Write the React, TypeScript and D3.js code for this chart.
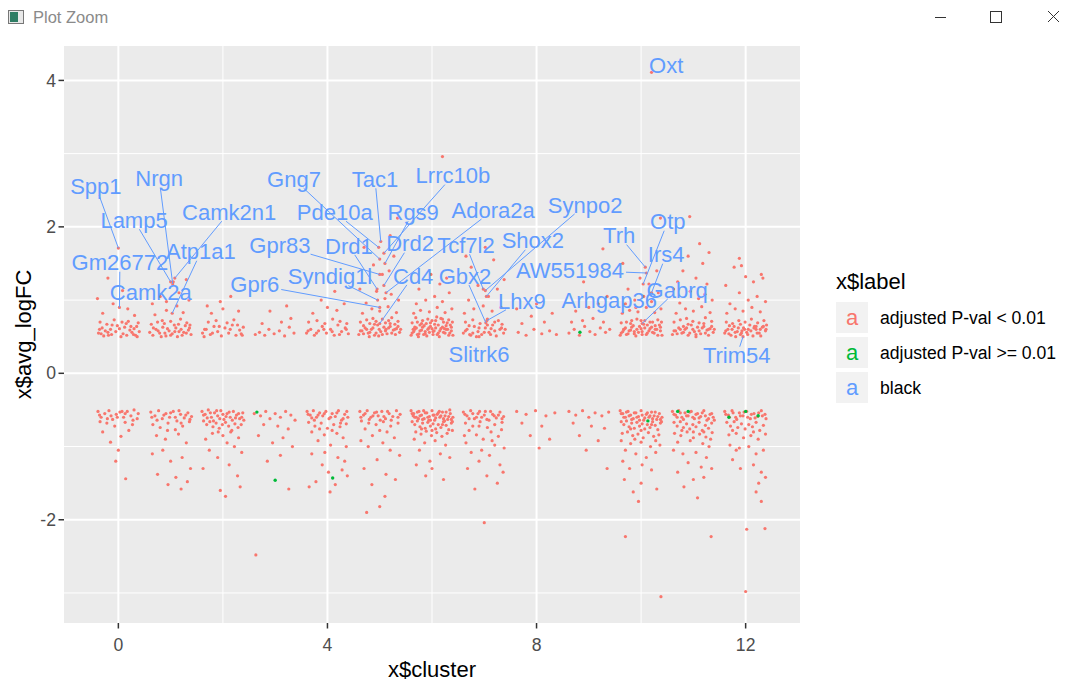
import React, { useEffect, useRef } from "react";
import * as d3 from "d3";

const width = 1083;
const height = 689;

const xTicks = [0, 4, 8, 12];
const xMinor = [2, 6, 10];
const yTicks = [-2, 0, 2, 4];
const yMinor = [-3, -1, 1, 3];

const legendLabels = ["adjusted P-val < 0.01", "adjusted P-val >= 0.01", "black"];
const legendColors = ["#F8766D", "#00BA38", "#619CFF"];

// points per cluster, flat pairs: [jitter, avg_logFC, jitter, avg_logFC, ...]
const cl0 = [
  -.38,.55, -.31,.62, -.25,.58, -.19,.52, -.12,.66, -.05,.57, .02,.61, .09,.54, .15,.68, .22,.59, .29,.53, .35,.64,
  .4,.57, -.35,.7, -.28,.51, -.15,.6, -.08,.73, .05,.5, .12,.63, .19,.71, .26,.56, .33,.52, -.22,.67, .38,.69,
  -.36,.6, -.2,.56, -.02,.65, .16,.52, .3,.61, -.13,.53, .07,.7, .24,.64, -.33,.54, .36,.5,
  -.3,.82, -.1,.95, .18,.88, .31,.79, -.4,1.02, .08,1.13, -.2,1.3,
  -.39,-.52, -.33,-.6, -.26,-.55, -.18,-.51, -.11,-.63, -.04,-.56, .03,-.53, .1,-.6, .17,-.52, .24,-.58, .3,-.5,
  .36,-.62, -.22,-.68, -.07,-.72, .13,-.67, .27,-.7, -.3,-.8, .05,-.86, -.15,-.94, .2,-.78, .0,-1.05, -.05,-1.2,
  .14,-1.44, -.35,-.66, -.36,-.57, -.21,-.62, -.02,-.6, .13,-.55, .28,-.64, -.14,-.58, .07,-.52, .38,-.55,
];
const cl1 = [
  -.4,.56, -.34,.52, -.28,.6, -.21,.55, -.15,.63, -.09,.51, -.03,.58, .03,.54, .1,.62, .16,.57, .22,.52, .28,.65,
  .34,.59, .39,.53, -.37,.67, -.25,.7, -.12,.68, .0,.71, .07,.66, .19,.74, .31,.69, -.18,.5, .13,.5, .25,.56,
  -.06,.61, .36,.62, -.33,.62, -.24,.58, -.11,.55, .0,.52, .08,.57, .2,.6, .3,.55, .37,.66, -.16,.72, .15,.67,
  -.3,.8, -.08,.86, .12,.92, .24,.83, .35,1.0, -.2,1.05, .05,1.25, .3,1.28, -.35,.95, .16,1.1,
  -.38,-.53, -.3,-.58, -.23,-.51, -.16,-.62, -.09,-.55, -.02,-.6, .05,-.52, .12,-.65, .19,-.56, .26,-.61, .33,-.54,
  .4,-.59, -.34,-.7, -.2,-.74, -.05,-.68, .09,-.77, .23,-.72, .36,-.66, -.27,-.85, -.1,-.9, .15,-.83, .3,-.95,
  -.36,-.6, -.26,-.64, -.13,-.57, .0,-.54, .09,-.6, .16,-.51, .29,-.57, .37,-.63, -.06,-.78, .2,-.68,
  -.35,-1.1, -.15,-1.05, .0,-1.2, .22,-1.15, .38,-1.3, -.25,-1.38, .1,-1.42, -.05,-1.52, .32,-1.48, .2,-1.58,
];
const cl2 = [
  -.39,.55, -.32,.6, -.24,.53, -.17,.64, -.1,.57, -.03,.51, .04,.62, .11,.55, .18,.66, .25,.52, .32,.59, .39,.63,
  -.28,.7, -.13,.72, .08,.69, .21,.73, .35,.54, -.36,.5, -.35,.6, -.2,.55, -.07,.64, .14,.6, .28,.66, .37,.52,
  -.22,.82, .0,.88, .3,.85, -.05,.98, .15,1.05, -.3,.92,
  -.4,-.52, -.34,-.56, -.28,-.5, -.22,-.6, -.16,-.54, -.1,-.58, -.04,-.51, .02,-.63, .08,-.55, .14,-.6, .2,-.52,
  .26,-.57, .32,-.62, .38,-.54, -.37,-.65, -.31,-.7, -.25,-.66, -.19,-.73, -.13,-.68, -.07,-.75, -.01,-.7, .05,-.67,
  .11,-.72, .17,-.78, .23,-.69, .29,-.74, .35,-.7, .4,-.64, -.2,-.82, .0,-.85, .15,-.8, .3,-.88, -.33,-.9, .08,-.95,
  -.37,-.57, -.3,-.61, -.24,-.54, -.18,-.65, -.12,-.51, -.06,-.62, .0,-.56, .06,-.59, .12,-.53, .18,-.64, .24,-.61,
  .3,-.55, .36,-.6, -.09,-.8,
  -.26,-1.05, .22,-1.0, .36,-1.08, -.1,-1.15, .12,-1.25, .28,-1.4, -.05,-1.6, .05,-1.68, .33,-1.55, -.38,-1.3,
];
const cl3 = [
  -.38,.53, -.3,.56, -.2,.52, -.12,.6, -.02,.54, .08,.58, .18,.51, .27,.63, .36,.55, -.25,.68, .12,.7, .3,.75,
  -.1,.85, .22,.92,
  -.4,-.55, -.28,-.58, -.18,-.52, -.1,-.62, .0,-.55, .1,-.6, .2,-.52, .3,-.57, .38,-.64, -.22,-.7, .05,-.72,
  .25,-.76, -.32,-.85, .15,-.88, -.05,-.95, .33,-1.0, .1,-1.12, -.15,-1.2, .26,-1.58, -.37,-2.48,
];
const cl4 = [
  -.4,.55, -.32,.6, -.25,.52, -.17,.58, -.1,.64, -.02,.55, .06,.6, .13,.52, .2,.66, .27,.57, .34,.62, .4,.54,
  -.36,.7, -.2,.72, -.05,.68, .1,.74, .24,.71, .37,.68, -.37,.58, -.21,.55, -.07,.6, .09,.57, .23,.53, .36,.6,
  -.28,.82, .0,.9, .18,.86, .32,.95, -.12,1.0, .14,1.12,
  -.39,-.52, -.33,-.57, -.27,-.51, -.21,-.6, -.15,-.54, -.09,-.58, -.03,-.52, .03,-.62, .09,-.55, .15,-.59,
  .21,-.51, .27,-.64, .33,-.56, .39,-.6, -.36,-.67, -.24,-.72, -.12,-.68, .0,-.75, .12,-.7, .24,-.73, .36,-.69,
  -.37,-.56, -.3,-.61, -.18,-.57, -.06,-.55, .06,-.6, .18,-.54, .3,-.62, .37,-.52, -.15,-.76, .09,-.78, -.25,-.64,
  .25,-.68,
  -.3,-.8, -.06,-.84, .18,-.82, .3,-.88, -.18,-.92, .06,-.98, .36,-1.0, -.3,-1.1, .2,-1.15, -.1,-1.25, .02,-1.35,
  .28,-1.32, -.22,-1.48, .15,-1.52, .05,-1.62, -.35,-1.55, .38,-1.4, .33,-1.2, -.05,-1.08,
];
const cl5 = [
  -.4,.53, -.34,.58, -.28,.62, -.22,.55, -.16,.6, -.1,.52, -.04,.66, .02,.57, .08,.63, .14,.54, .2,.68, .26,.59,
  .32,.61, .38,.56, -.37,.7, -.31,.65, -.25,.73, -.19,.68, -.13,.75, -.07,.71, .05,.74, .11,.69, .17,.72, .23,.76,
  .29,.67, .35,.71, -.02,.51, .12,.6, -.2,.5, .3,.53, -.37,.58, -.31,.54, -.25,.6, -.19,.56, -.13,.62, -.07,.55,
  -.01,.6, .05,.53, .11,.58, .17,.62, .23,.55, .29,.6, .35,.64, .4,.6, -.1,.67, .2,.64,
  -.33,.82, -.15,.88, .0,.85, .16,.91, .32,.83, -.26,.96,
  .1,1.02, -.06,1.12, .22,1.08, .36,1.0, -.38,1.15, .05,1.35, -.12,1.48, .18,1.4, .27,1.6, -.3,1.72, .2,1.88, .34,2.12,
  -.38,-.52, -.31,-.57, -.24,-.51, -.17,-.6, -.1,-.54, -.03,-.58, .04,-.52, .11,-.62, .18,-.55, .25,-.59, .32,-.51,
  .39,-.56, -.35,-.65, -.21,-.68, -.07,-.7, .07,-.66, .21,-.72, .35,-.68, -.28,-.76, .0,-.78, .14,-.8, -.14,-.85,
  -.36,-.6, -.28,-.55, -.2,-.63, -.13,-.58, -.06,-.53, .01,-.64, .08,-.59, .15,-.52, .22,-.64, .35,-.6,
  .28,-.88, -.36,-.92, .06,-.95, -.22,-1.0, .2,-1.05, .38,-1.12, -.05,-1.18, -.3,-1.3, .12,-1.38, .3,-1.45,
  -.15,-1.52, .1,-1.68, -.25,-1.9, .0,-1.82,
];
const cl6 = [
  -.4,.52, -.35,.57, -.3,.62, -.25,.54, -.2,.59, -.15,.65, -.1,.51, -.05,.56, .0,.61, .05,.67, .1,.53, .15,.58,
  .2,.63, .25,.55, .3,.6, .35,.66, .4,.52, -.38,.69, -.33,.63, -.28,.7, -.23,.66, -.18,.72, -.13,.57, -.08,.74,
  -.03,.69, .02,.53, .07,.72, .12,.66, .17,.75, .22,.7, .27,.65, .32,.73, .37,.58, -.36,.6, -.26,.5, -.16,.53,
  -.06,.62, .04,.58, .14,.5, .24,.61, .34,.55, -.31,.76, -.11,.68, .09,.77, .29,.69,
  -.38,.55, -.33,.6, -.28,.53, -.23,.58, -.18,.63, -.13,.54, -.08,.6, -.03,.64, .02,.57, .07,.62, .12,.55, .17,.61,
  .22,.56, .27,.6, .32,.52, .37,.63, -.2,.68, .0,.72, .2,.74, .39,.7,
  -.35,.82, -.22,.86, -.05,.84,
  .1,.9, .25,.83, .38,.88, -.3,.95, -.12,1.0, .05,1.05, .2,.98, .33,1.1, -.25,1.15, .15,1.22, -.02,1.35, .28,1.3,
  .2,2.96,
  -.4,-.51, -.35,-.55, -.3,-.6, -.25,-.52, -.2,-.57, -.15,-.62, -.1,-.54, -.05,-.59, .0,-.51, .05,-.64, .1,-.56,
  .15,-.6, .2,-.53, .25,-.58, .3,-.63, .35,-.55, .4,-.6, -.38,-.66, -.33,-.7, -.28,-.65, -.23,-.73, -.18,-.68,
  -.13,-.75, -.08,-.67, -.03,-.72, .02,-.69, .07,-.76, .12,-.7, .17,-.74, .22,-.66, .27,-.71, .32,-.77, .37,-.68,
  -.36,-.58, -.26,-.62, -.16,-.51, -.06,-.64, .04,-.57, .14,-.52, .24,-.65, .34,-.5, -.31,-.8, -.21,-.83, -.11,-.79,
  -.38,-.55, -.33,-.6, -.28,-.53, -.23,-.58, -.18,-.63, -.13,-.54, -.08,-.6, -.03,-.64, .02,-.57, .07,-.61,
  .12,-.54, .17,-.58, .22,-.62, .27,-.53, .32,-.59, .37,-.63, -.2,-.76, .0,-.78, .2,-.7, .39,-.66,
  -.01,-.85, .09,-.81, .19,-.86, .29,-.82, .39,-.78, -.34,-.9, -.14,-.95, .06,-.92, .26,-.98, -.24,-1.05, .16,-1.1,
  -.04,-1.2, .34,-1.15, .0,-1.3, -.3,-1.25, .22,-1.45, -.12,-1.4,
];
const cl7 = [
  -.4,.55, -.33,.6, -.26,.52, -.19,.64, -.12,.57, -.05,.53, .02,.62, .09,.56, .16,.66, .23,.51, .3,.6, .37,.55,
  -.36,.7, -.22,.73, -.08,.68, .06,.74, .2,.7, .34,.67, -.29,.65, .13,.61, -.15,.5, .27,.72,
  -.36,.58, -.22,.55, -.1,.62, .0,.56, .12,.53, .2,.58, .33,.62, .4,.6, -.28,.53, .06,.66,
  -.38,.82, -.2,.88,
  -.02,.92, .15,.85, .32,.9, -.3,1.0, .08,1.05, .25,1.15, -.12,1.2, .38,1.28, -.25,1.45, .18,1.55, .02,1.72, -.35,1.6,
  -.4,-.53, -.33,-.58, -.26,-.51, -.19,-.62, -.12,-.55, -.05,-.6, .02,-.52, .09,-.64, .16,-.56, .23,-.61, .3,-.53,
  .37,-.59, -.36,-.68, -.22,-.72, -.08,-.66, .06,-.74, .2,-.7, .34,-.67, -.29,-.78, .13,-.8, -.15,-.84, .27,-.86,
  -.37,-.56, -.29,-.62, -.22,-.55, -.15,-.6, -.09,-.52, .0,-.57, .05,-.63, .12,-.52, .19,-.58, .27,-.57, .34,-.62,
  -.1,-.72,
  -.02,-.9, -.35,-.95, .2,-.98, .38,-1.02, -.25,-1.08, .1,-1.12, -.1,-1.2, .3,-1.25, -.32,-1.3, .05,-1.4, .25,-1.5,
  -.18,-1.58, .0,-2.04, .36,-1.35, -.05,-1.05, .15,-.92, -.38,-.85, .33,-.77,
];
const cl8 = [
  -.35,.56, -.2,.52, -.05,.6, .1,.54, .25,.58, .38,.53, -.28,.68, .15,.7, -.1,.78, .3,.82, .0,.95, -.38,.88,
  -.38,-.52, -.2,-.56, -.02,-.51, .18,-.58, .35,-.54, -.28,-.68, .1,-.72, -.12,-.85, .25,-.9, .05,-1.02,
];
const cl9 = [
  -.38,.55, -.28,.6, -.18,.52, -.08,.64, .02,.57, .12,.53, .22,.62, .32,.56, .4,.6, -.33,.7, -.12,.72, .08,.75,
  .28,.7, -.25,.85, .0,.9, .18,.95, .35,1.05, -.1,1.25, .27,1.7,
  -.38,-.52, -.25,-.57, -.12,-.51, .0,-.6, .12,-.54, .25,-.58, .38,-.53, -.3,-.68, .05,-.72, .3,-.75, -.18,-.85,
  .18,-.92, -.05,-1.05, .35,-1.3,
];
const cl10 = [
  -.4,.52, -.35,.57, -.3,.62, -.25,.54, -.2,.59, -.15,.65, -.1,.51, -.05,.56, .0,.61, .05,.67, .1,.53, .15,.58,
  .2,.63, .25,.55, .3,.6, .35,.66, .4,.52, -.38,.69, -.28,.7, -.18,.72, -.08,.74, .02,.53, .12,.66, .22,.7,
  .32,.73, -.33,.6, -.13,.57, .07,.72, .27,.65, .37,.58,
  -.38,.55, -.33,.6, -.28,.53, -.23,.58, -.18,.63, -.13,.54, -.08,.6, -.03,.64, .02,.57, .07,.62, .12,.55, .17,.61,
  .22,.56, .27,.6, .32,.52, .37,.63, -.2,.68, .0,.72, .17,.7, .39,.7,
  -.36,.82, -.22,.86, -.06,.84, .1,.9, .26,.83, .38,.88,
  -.3,.95, -.12,1.0, .05,1.05, .2,.98, .33,1.1, -.25,1.15, .15,1.22, -.02,1.3, .3,1.4, -.35,1.5, .37,2.12,
  -.4,-.51, -.35,-.55, -.3,-.6, -.25,-.52, -.2,-.57, -.15,-.62, -.1,-.54, -.05,-.59, .0,-.51, .05,-.64, .1,-.56,
  .15,-.6, .2,-.53, .25,-.58, .3,-.63, .35,-.55, .4,-.6, -.38,-.66, -.33,-.7, -.28,-.65, -.23,-.73, -.18,-.68,
  -.13,-.75, -.08,-.67, -.03,-.72, .02,-.69, .07,-.76, .12,-.7, .17,-.74, .22,-.66, .27,-.71, .32,-.77, .37,-.68,
  -.38,-.55, -.33,-.6, -.28,-.53, -.23,-.58, -.18,-.63, -.13,-.54, -.08,-.6, -.03,-.64, .02,-.57, .07,-.61,
  .12,-.54, .17,-.58, .22,-.62, .27,-.53, .32,-.59, .37,-.63, -.2,-.76, .0,-.78, .2,-.7, .39,-.66, -.12,-.9, .28,-.92,
  -.36,-.82, -.26,-.8, -.16,-.85, -.06,-.83, .04,-.88, .14,-.81, .24,-.86, .34,-.84, -.38,-.92, -.2,-.96, .0,-.94,
  .18,-1.0, .36,-.98, -.3,-1.05, -.1,-1.1, .1,-1.15, .28,-1.08, -.35,-1.2, .02,-1.25, -.22,-1.3, .2,-1.32,
  -.32,-1.45, .0,-1.5, -.15,-1.62, .3,-1.58, -.3,-2.23, .38,-3.05, -.05,-1.75,
];
const cl11 = [
  -.4,.53, -.34,.58, -.28,.62, -.22,.55, -.16,.6, -.1,.52, -.04,.66, .02,.57, .08,.63, .14,.54, .2,.68, .26,.59,
  .32,.61, .38,.56, -.37,.7, -.25,.73, -.13,.75, -.01,.71, .11,.69, .23,.76, .35,.71, -.19,.64, .05,.5, .29,.52,
  -.37,.58, -.31,.54, -.25,.6, -.19,.56, -.13,.62, -.07,.55, -.01,.6, .05,.53, .11,.58, .17,.62, .23,.55, .29,.6,
  .35,.64, .4,.6, -.1,.67, .2,.64,
  -.33,.82, -.15,.88, .0,.85, .16,.91, .32,.83, -.26,.96, .1,1.02, -.06,1.12, .22,1.08, .36,1.0, -.38,1.15,
  .05,1.3, -.2,1.4, .18,1.5, -.07,2.14, .12,1.77, .3,1.65, -.3,1.25, .26,1.22, -.1,1.6,
  -.4,-.52, -.34,-.57, -.28,-.51, -.22,-.6, -.16,-.54, -.1,-.58, -.04,-.52, .02,-.62, .08,-.55, .14,-.59, .2,-.51,
  .26,-.64, .32,-.56, .38,-.6, -.37,-.67, -.31,-.72, -.25,-.66, -.19,-.74, -.13,-.69, -.07,-.76, -.01,-.7, .05,-.73,
  .11,-.67, .17,-.78, .23,-.71, .29,-.75, .35,-.68, -.36,-.82, -.24,-.85, -.12,-.8, .0,-.88, .12,-.83, .24,-.87,
  -.37,-.56, -.31,-.6, -.25,-.54, -.19,-.63, -.13,-.58, -.07,-.53, -.01,-.6, .05,-.56, .11,-.61, .17,-.54,
  .23,-.58, .29,-.62, .35,-.55, .4,-.64, -.22,-.78, .0,-.8, .2,-.8, .33,-.9,
  .36,-.81, -.3,-.94, -.06,-.92, .18,-.96, .3,-1.0, -.38,-1.05, -.2,-1.1, .05,-1.08, .25,-1.15, -.1,-1.22,
  .15,-1.28, -.3,-1.35, .35,-1.3, .0,-1.45, -.18,-1.55, .2,-1.42, .08,-1.7, .34,-2.23,
];
const cl12 = [
  -.4,.55, -.34,.6, -.28,.52, -.22,.64, -.16,.57, -.1,.53, -.04,.62, .02,.56, .08,.66, .14,.51, .2,.6, .26,.55,
  .32,.63, .38,.58, -.37,.7, -.25,.68, -.13,.72, -.01,.7, .11,.74, .23,.69, .35,.72, -.31,.65, -.19,.5, .05,.6,
  .17,.64, .29,.51, -.07,.58, .4,.66,
  -.38,.58, -.32,.54, -.26,.6, -.2,.56, -.14,.62, -.08,.55, -.02,.6, .04,.53, .1,.58, .16,.62, .22,.55, .28,.6,
  .34,.64, .39,.6, -.1,.67, .2,.64,
  -.36,.82, -.2,.88, -.05,.85, .12,.9, .28,.84, -.3,.95, .05,1.0, .22,1.05,
  .38,.98, -.12,1.1, -.38,1.2, .15,1.25, .33,1.3, -.22,1.45, -.12,1.57, -.08,1.47, .3,1.35, .0,1.32,
  -.4,-.52, -.33,-.57, -.26,-.51, -.19,-.6, -.12,-.54, -.05,-.58, .02,-.52, .09,-.62, .16,-.55, .23,-.59, .3,-.51,
  .37,-.56, -.36,-.67, -.29,-.72, -.22,-.66, -.15,-.74, -.08,-.69, -.01,-.76, .06,-.7, .13,-.73, .2,-.67, .27,-.78,
  -.38,-.56, -.31,-.6, -.24,-.54, -.17,-.63, -.1,-.58, -.03,-.53, .04,-.6, .11,-.56, .18,-.61, .25,-.54, .32,-.58,
  .39,-.62, -.25,-.78, .15,-.8,
  .34,-.71, -.32,-.84, -.18,-.82, -.04,-.88, .1,-.85, .24,-.9, .38,-.83, -.3,-.98, -.12,-1.02, .06,-1.0, .2,-1.1,
  .34,-1.05, -.25,-1.18, .15,-1.25, .3,-1.35, -.1,-1.3, .25,-1.5, .38,-1.42, .2,-1.62, .3,-1.75, .02,-2.13,
  .37,-2.12, .0,-2.98, -.18,-1.05,
];
const clusterPoints = [cl0, cl1, cl2, cl3, cl4, cl5, cl6, cl7, cl8, cl9, cl10, cl11, cl12];

// genes with adjusted P-val >= 0.01
const greenCluster = [3, 3, 4, 9, 10, 11, 11, 12, 12, 12];
const greenJitter = [-.35, 0, .1, -.17, .13, -.3, -.1, -.32, 0, .24];
const greenFC = [-.53, -1.46, -1.43, .56, -.65, -.52, -.52, -.6, -.52, -.58];

// labelled genes: point and repelled text position (data units)
const genes = ["Spp1", "Nrgn", "Lamp5", "Camk2n1", "Atp1a1", "Gm26772", "Camk2a", "Gpr6", "Gng7", "Tac1",
  "Lrrc10b", "Pde10a", "Rgs9", "Adora2a", "Synpo2", "Gpr83", "Drd1", "Drd2", "Tcf7l2", "Shox2", "Syndig1l",
  "Cd4", "Gbx2", "Trh", "Otp", "Irs4", "AW551984", "Gabrq", "Arhgap36", "Lhx9", "Slitrk6", "Trim54", "Oxt"];
const geneCluster = [0, 1, 1, 1, 1, 0, 1, 5, 5, 5, 5, 5, 5, 5, 7, 5, 5, 5, 7, 7, 5, 5, 7, 10, 10, 10, 10, 10, 10, 7, 7, 12, 10];
const geneJitter = [0, .04, 0, .08, .03, .02, -.08, 0, 0, .02, .08, -.02, .1, .12, .02, 0, -.05, .08, -.02, .04, -.04,
  0, .03, .08, .04, .2, .1, .02, -.1, .05, -.1, -.05, .2];
const geneFC = [1.71, 1.22, 1.25, 1.3, .82, .9, .98, .9, 1.56, 1.8, 1.64, 1.72, 1.5, 1.1, 1.13, 1.35, 1.15, 1.2,
  1.15, 1.05, 1.0, .68, .69, 1.45, 1.22, 1.1, 1.37, .68, .9, .72, .5, .5, 4.11];
const labelX = [-.43, .78, .3, 2.12, 1.58, .03, .62, 2.61, 3.36, 4.91, 6.4, 4.14, 5.64, 7.17, 8.93, 3.09, 4.41, 5.58,
  6.65, 7.93, 4.05, 5.64, 6.63, 9.58, 10.51, 10.48, 8.64, 10.69, 9.39, 7.72, 6.9, 11.83, 10.48];
const labelY = [2.55, 2.66, 2.09, 2.2, 1.66, 1.51, 1.1, 1.21, 2.65, 2.65, 2.7, 2.2, 2.2, 2.23, 2.3, 1.75, 1.74, 1.77,
  1.75, 1.81, 1.32, 1.33, 1.33, 1.88, 2.07, 1.62, 1.41, 1.14, 1.0, .99, .26, .24, 4.2];

const font = "'Liberation Sans', Arial, sans-serif";

export default function App() {
  const ref = useRef<SVGSVGElement>(null);

  useEffect(() => {
    document.body.style.margin = "0";
    const svg = d3.select(ref.current);
    svg.selectAll("*").remove();

    const x = d3.scaleLinear().domain([-1.04, 13.04]).range([64, 800]);
    const y = d3.scaleLinear().domain([-3.41, 4.47]).range([623, 46]);
    const [x0, x1] = x.range();
    const [y0, y1] = y.range();

    svg.append("rect").attr("width", width).attr("height", height).attr("fill", "#fff");

    // window title bar
    const bar = svg.append("g");
    bar.append("rect").attr("x", 8.5).attr("y", 10.5).attr("width", 15).attr("height", 13)
      .attr("fill", "#e8e8e8").attr("stroke", "#777");
    bar.append("rect").attr("x", 10).attr("y", 12).attr("width", 8).attr("height", 10).attr("fill", "#2e7d64");
    bar.append("text").attr("x", 33).attr("y", 23).attr("font-family", font).attr("font-size", 16.5)
      .attr("fill", "#8a8a8a").text("Plot Zoom");
    bar.append("line").attr("x1", 935).attr("x2", 946).attr("y1", 17.5).attr("y2", 17.5).attr("stroke", "#333");
    bar.append("rect").attr("x", 990.5).attr("y", 11.5).attr("width", 11).attr("height", 11)
      .attr("fill", "none").attr("stroke", "#333");
    bar.append("path").attr("d", "M1048,11L1059,22M1059,11L1048,22").attr("stroke", "#333");

    // panel
    svg.append("rect").attr("x", x0).attr("y", y1).attr("width", x1 - x0).attr("height", y0 - y1).attr("fill", "#EBEBEB");
    const grid = svg.append("g").attr("stroke", "#fff");
    xMinor.forEach((v) => grid.append("line").attr("x1", x(v)).attr("x2", x(v)).attr("y1", y0).attr("y2", y1).attr("stroke-width", 1));
    yMinor.forEach((v) => grid.append("line").attr("y1", y(v)).attr("y2", y(v)).attr("x1", x0).attr("x2", x1).attr("stroke-width", 1));
    xTicks.forEach((v) => grid.append("line").attr("x1", x(v)).attr("x2", x(v)).attr("y1", y0).attr("y2", y1).attr("stroke-width", 2));
    yTicks.forEach((v) => grid.append("line").attr("y1", y(v)).attr("y2", y(v)).attr("x1", x0).attr("x2", x1).attr("stroke-width", 2));

    // points
    const pts = svg.append("g").attr("fill", legendColors[0]);
    clusterPoints.forEach((arr, c) => {
      for (let i = 0; i < arr.length; i += 2) {
        pts.append("circle").attr("cx", x(c + arr[i])).attr("cy", y(arr[i + 1])).attr("r", 1.6);
      }
    });
    genes.forEach((g, i) => {
      pts.append("circle").attr("cx", x(geneCluster[i] + geneJitter[i])).attr("cy", y(geneFC[i])).attr("r", 1.6);
    });
    const gp = svg.append("g").attr("fill", legendColors[1]);
    greenCluster.forEach((c, i) => {
      gp.append("circle").attr("cx", x(c + greenJitter[i])).attr("cy", y(greenFC[i])).attr("r", 1.7);
    });

    // repelled labels
    const lab = svg.append("g");
    genes.forEach((g, i) => {
      const px = x(geneCluster[i] + geneJitter[i]);
      const py = y(geneFC[i]);
      const cx = x(labelX[i]);
      const cy = y(labelY[i]);
      const t = lab.append("text").attr("x", cx).attr("y", cy).attr("dy", "0.35em").attr("text-anchor", "middle")
        .attr("font-family", font).attr("font-size", 22).attr("fill", legendColors[2]).text(g);
      const bb = (t.node() as SVGTextElement).getBBox();
      const hw = bb.width / 2 + 2;
      const hh = 9;
      const dx = cx - px;
      const dy = cy - py;
      const s = Math.min(dx === 0 ? Infinity : hw / Math.abs(dx), dy === 0 ? Infinity : hh / Math.abs(dy));
      if (s < 1) {
        const ex = cx - dx * s;
        const ey = cy - dy * s;
        if (Math.hypot(ex - px, ey - py) > 10) {
          lab.insert("line", "text").attr("x1", px).attr("y1", py).attr("x2", ex).attr("y2", ey)
            .attr("stroke", legendColors[2]).attr("stroke-width", 1);
        }
      }
    });

    // axes
    const ax = svg.append("g").attr("font-family", font);
    xTicks.forEach((v) => {
      ax.append("line").attr("x1", x(v)).attr("x2", x(v)).attr("y1", y0).attr("y2", y0 + 5.5).attr("stroke", "#333").attr("stroke-width", 1.5);
      ax.append("text").attr("x", x(v)).attr("y", 651).attr("text-anchor", "middle").attr("font-size", 17.6)
        .attr("fill", "#4D4D4D").text(v);
    });
    yTicks.forEach((v) => {
      ax.append("line").attr("x1", x0 - 5.5).attr("x2", x0).attr("y1", y(v)).attr("y2", y(v)).attr("stroke", "#333").attr("stroke-width", 1.5);
      ax.append("text").attr("x", 56).attr("y", y(v)).attr("dy", "0.35em").attr("text-anchor", "end").attr("font-size", 17.6)
        .attr("fill", "#4D4D4D").text(v);
    });
    ax.append("text").attr("x", (x0 + x1) / 2).attr("y", 677).attr("text-anchor", "middle").attr("font-size", 22)
      .text("x$cluster");
    ax.append("text").attr("transform", `translate(31,${(y0 + y1) / 2}) rotate(-90)`).attr("text-anchor", "middle")
      .attr("font-size", 22).text("x$avg_logFC");

    // legend
    const lg = svg.append("g").attr("font-family", font);
    lg.append("text").attr("x", 836).attr("y", 289).attr("font-size", 22).text("x$label");
    legendLabels.forEach((l, i) => {
      const cy = 317.5 + i * 35;
      lg.append("rect").attr("x", 836).attr("y", cy - 15.5).attr("width", 32).attr("height", 31).attr("fill", "#F2F2F2");
      lg.append("text").attr("x", 852).attr("y", cy).attr("dy", "0.35em").attr("text-anchor", "middle")
        .attr("font-size", 22).attr("fill", legendColors[i]).text("a");
      lg.append("text").attr("x", 880).attr("y", cy).attr("dy", "0.35em").attr("font-size", 17.6).text(l);
    });
  }, []);

  return <svg ref={ref} width={width} height={height} style={{ display: "block" }} />;
}
